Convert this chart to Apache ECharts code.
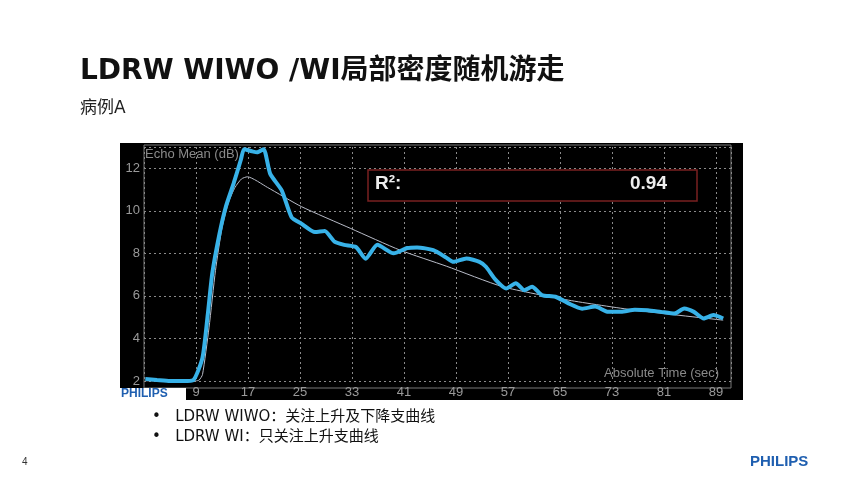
<!DOCTYPE html>
<html><head><meta charset="utf-8">
<script src="https://cdn.jsdelivr.net/npm/echarts@6/dist/echarts.min.js"></script>
<style>html,body{margin:0;padding:0;background:#fff}#c{width:864px;height:486px}</style>
</head><body><div id="c"></div>
<script>
const xTicks = [9, 17, 25, 33, 41, 49, 57, 65, 73, 81, 89];
const echoTime = [1.2,3,5,7,8.6,10,10.8,11.5,12.6,13.6,14.8,15.9,16.4,17.6,18.4,19.4,20.4,22.2,23.7,25.2,27.3,28.8,30.3,31.8,33.6,35.1,36.9,39.4,41.5,43,45.5,47.5,48.6,50.6,52.6,53.6,55.1,56.7,58.2,59.5,60.7,62.2,64.3,66.3,68.4,70.4,72.4,74.4,76.5,78.5,80.5,82.6,84.1,85.6,87.1,88.6,90.1];
const echoMean = [2.1,2.05,2.0,2.0,2.05,3.1,5.1,7.05,8.9,10.2,11.3,12.4,12.9,12.8,12.75,12.9,11.75,10.95,9.7,9.4,9.0,9.05,8.55,8.4,8.3,7.75,8.4,8.0,8.25,8.28,8.15,7.8,7.6,7.76,7.6,7.37,6.75,6.35,6.6,6.27,6.43,6.04,5.96,5.65,5.4,5.5,5.25,5.25,5.35,5.33,5.25,5.17,5.41,5.25,4.94,5.1,4.94];
const fitTime = [1.2,5,9,9.5,10,11,12,13,14,15,16,16.9,20,25.2,32.8,40.4,47.5,56.2,66.3,76.5,90.1];
const fitMean = [2.0,2.0,2.0,2.05,2.3,4.5,7.2,9.2,10.4,11.1,11.5,11.6,11.1,10.2,9.17,8.15,7.4,6.43,5.8,5.33,4.86];
const r2Label = "R²:";
const r2Value = "0.94";
const title = "LDRW WIWO /WI局部密度随机游走";
const subtitle = "病例A";
const bullets = ["LDRW WIWO：关注上升及下降支曲线", "LDRW WI：只关注上升支曲线"];

const zip = (a, b) => a.map((v, i) => [v, b[i]]);
const chart = echarts.init(document.getElementById('c'));
const F = 'Arial, "Liberation Sans", "Noto Sans CJK SC", sans-serif';
const T = '"DejaVu Sans", "Noto Sans CJK SC", sans-serif';
chart.setOption({
  animation: false,
  backgroundColor: '#fff',
  grid: { left: 144, right: 133, top: 147, bottom: 105 },
  xAxis: {
    type: 'value', min: 1, max: 91.3, interval: 8,
    axisLine: { show: false }, axisTick: { show: false },
    axisLabel: { showMinLabel: false, showMaxLabel: false, color: '#9a9a9a', fontSize: 13, margin: 5, fontFamily: F },
    splitLine: { lineStyle: { color: '#8a8a8a', type: [2, 3], width: 1 } }
  },
  yAxis: {
    type: 'value', min: 2, max: 13, interval: 2,
    axisLine: { show: false }, axisTick: { show: false },
    axisLabel: { showMaxLabel: false, color: '#9a9a9a', fontSize: 13, margin: 4, fontFamily: F },
    splitLine: { lineStyle: { color: '#8a8a8a', type: [2, 3], width: 1 } }
  },
  series: [
    { type: 'line', data: zip(fitTime, fitMean), smooth: 0.2, showSymbol: false,
      lineStyle: { color: '#b8bcc8', width: 1 }, z: 3 },
    { type: 'line', data: zip(echoTime, echoMean), smooth: 0.2, showSymbol: false,
      lineStyle: { color: '#38b2e8', width: 4 }, z: 4 }
  ],
  graphic: [
    { type: 'rect', z: -10, shape: { x: 120, y: 143, width: 623, height: 257 }, style: { fill: '#000' } },
    { type: 'rect', z: -9, shape: { x: 144, y: 145, width: 587, height: 243 }, style: { fill: 'none', stroke: '#777', lineWidth: 1 } },
    { type: 'rect', z: 5, shape: { x: 368, y: 170, width: 329, height: 31 }, style: { fill: '#000', stroke: '#7a2020', lineWidth: 1.5 } },
    { type: 'text', z: 6, left: 375, top: 174, style: { text: r2Label, fill: '#eee', font: 'bold 19px ' + F } },
    { type: 'text', z: 6, left: 630, top: 174, style: { text: r2Value, fill: '#eee', font: 'bold 19px ' + F } },
    { type: 'text', z: 6, left: 145, top: 148, style: { text: 'Echo Mean (dB)', fill: '#8a8a8a', font: '13px ' + F } },
    { type: 'text', z: 6, left: 604, top: 367, style: { text: 'Absolute Time (sec)', fill: '#8a8a8a', font: '13px ' + F } },
    { type: 'rect', z: 7, shape: { x: 120, y: 388, width: 66, height: 13 }, style: { fill: '#fff' } },
    { type: 'text', z: 8, left: 121, top: 388, style: { text: 'PHILIPS', fill: '#1f5fb0', font: 'bold 12px ' + F } },
    { type: 'text', left: 80, top: 58, style: { text: title, fill: '#111', font: 'bold 28px ' + T } },
    { type: 'text', left: 80, top: 100, style: { text: subtitle, fill: '#222', font: '17px ' + T } },
    { type: 'text', left: 152, top: 410, style: { text: '•   ' + bullets[0], fill: '#111', font: '15px ' + T } },
    { type: 'text', left: 152, top: 430, style: { text: '•   ' + bullets[1], fill: '#111', font: '15px ' + T } },
    { type: 'text', left: 22, top: 457, style: { text: '4', fill: '#333', font: '10px ' + F } },
    { type: 'text', left: 750, top: 454, style: { text: 'PHILIPS', fill: '#1f5fb0', font: 'bold 15px ' + F } }
  ]
});
</script></body></html>
